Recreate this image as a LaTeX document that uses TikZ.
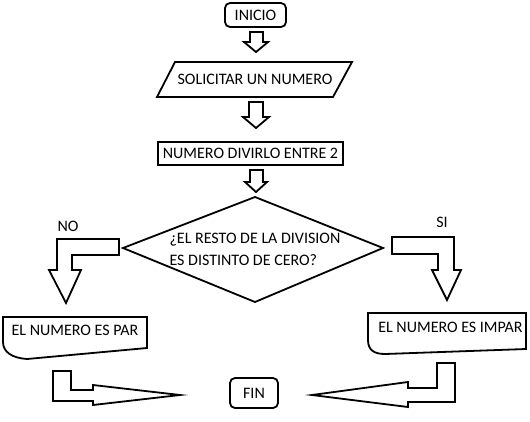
\documentclass[tikz,border=0pt]{standalone}
\usepackage{fontspec}
\setmainfont{Carlito}
\begin{document}
\begin{tikzpicture}[x=1pt, y=-1pt, line width=1.8pt,
  caja/.style={draw, rounded corners=5pt, inner sep=0pt},
  texto/.style={font=\fontsize{16}{22}\selectfont}]
\useasboundingbox (0,0) rectangle (530,421);
% inicio
\node[caja, texto, minimum width=61pt, minimum height=24pt] (inicio) at (255.5,15) {INICIO};
\draw (250,32) -- (263,32) -- (263,42) -- (268,42) -- (256,52) -- (244,42) -- (250,42) -- cycle;
% entrada
\coordinate (A) at (175,62);
\coordinate (B) at (352,62);
\coordinate (C) at (333,97);
\coordinate (D) at (157,97);
\draw (A) -- (B) -- (C) -- (D) -- cycle;
\node[texto] (solicitar) at (255,79.5) {SOLICITAR UN NUMERO};
\draw (249,102) -- (263,102) -- (263,117) -- (269,117) -- (256,128) -- (243,117) -- (249,117) -- cycle;
% proceso
\node[draw, texto, inner sep=0pt, minimum width=185pt, minimum height=23pt] (dividir) at (250.5,153.5) {NUMERO DIVIRLO ENTRE 2};
\draw (250,170) -- (263,170) -- (263,182) -- (267,182) -- (256,192) -- (245,182) -- (250,182) -- cycle;
% decision
\coordinate (P) at (255,197);
\coordinate (Q) at (383,248);
\coordinate (R) at (255,302);
\coordinate (S) at (123,248);
\draw (P) -- (Q) -- (R) -- (S) -- cycle;
\node[texto, align=left] (pregunta) at (255,249) {¿EL RESTO DE LA DIVISION\\ES DISTINTO DE CERO?};
\node[texto] (no) at (68,226) {NO};
\node[texto] (si) at (442,222) {SI};
\draw (119,239) -- (57,239) -- (57,270) -- (49,270) -- (66,303) -- (81,270) -- (72,270) -- (72,255) -- (119,255) -- cycle;
\draw (392,237) -- (454,237) -- (454,270) -- (461,270) -- (447,300) -- (432,270) -- (438,270) -- (438,254) -- (392,254) -- cycle;
% salidas
\draw (3,317) -- (147,317) -- (147,348) -- (27,359) .. controls (12,358) and (3,352) .. (3,342) -- cycle;
\node[texto] (par) at (75,330) {EL NUMERO ES PAR};
\draw (368,313) -- (526,313) -- (526,349) -- (385,354) .. controls (374,354) and (368,350) .. (368,340) -- cycle;
\node[texto] (impar) at (450.5,327) {EL NUMERO ES IMPAR};
% fin
\draw (53,371) -- (71,371) -- (71,390) -- (93,390) -- (93,385) -- (180,395) -- (93,405) -- (93,401) -- (53,401) -- cycle;
\draw (455,363) -- (437,363) -- (437,388) -- (408,388) -- (408,382) -- (312,395) -- (408,407) -- (408,402) -- (455,402) -- cycle;
\node[caja, texto, minimum width=48pt, minimum height=30pt] (fin) at (254,393) {FIN};
\end{tikzpicture}
\end{document}
